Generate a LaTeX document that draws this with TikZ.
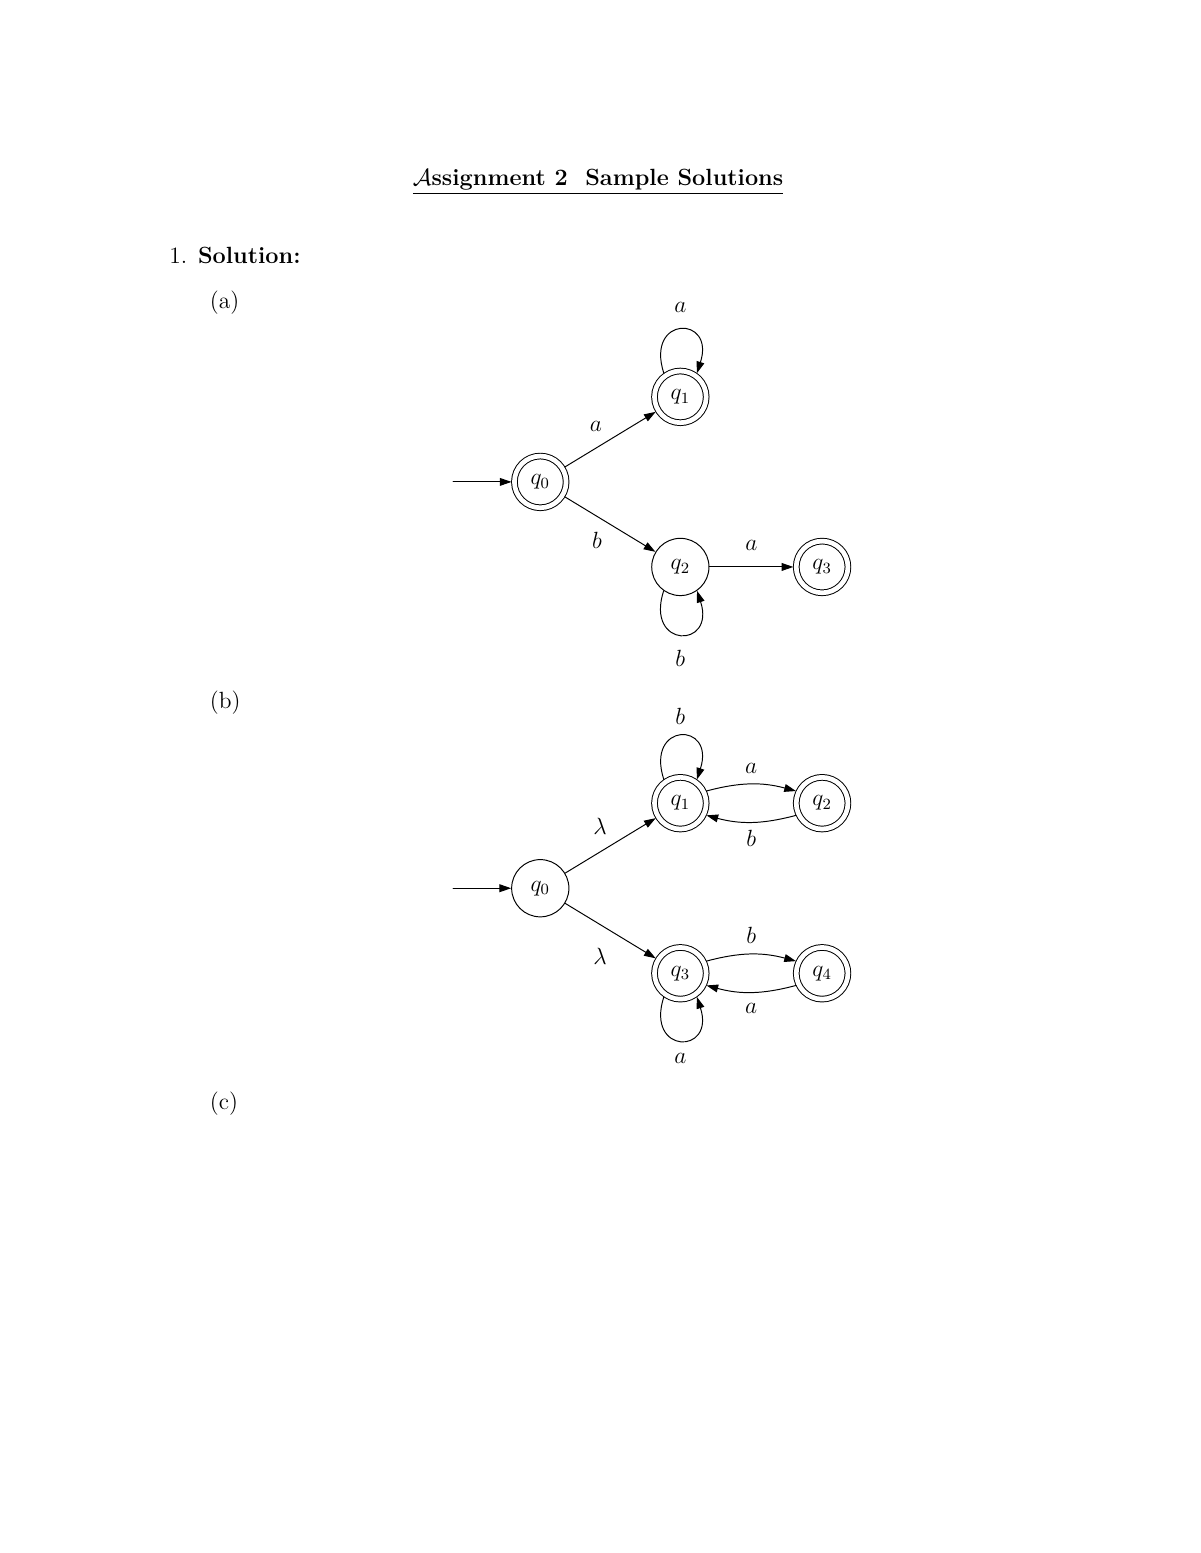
\documentclass[tikz,border=0pt,12pt]{standalone}
\usepackage{amsmath,amssymb}
\usepackage{xcolor}
\usepackage{tikz}
\usetikzlibrary{arrows.meta}
\tikzset{
  state/.style={draw, circle, line width=0.5pt, minimum size=1.03cm, inner sep=0pt},
  accept/.style={draw, circle, line width=0.5pt, double, double distance=2.4pt,
    minimum size=0.93cm, inner sep=0pt, outer sep=1.5pt},
  trans/.style={draw, line width=0.5pt, -{Triangle[length=6pt,width=4pt]}},
  lab/.style={font=\normalsize},
  head/.style={font=\normalsize\bfseries},
  itemlab/.style={anchor=west}
}

\begin{document}
\begin{tikzpicture}[line cap=round, line join=round]
  \useasboundingbox (0,0) rectangle (21.59,-27.94);
  % heading and item labels
  \node[head] (title) at (10.76,-3.28) {\underline{$\mathcal{A}$ssignment 2\ \ Sample Solutions}};
  \node[itemlab] (sol) at (2.90,-4.59) {1.\hspace{0.46em}\textbf{Solution:}};
  \node[itemlab] (pa) at (3.63,-5.45) {(a)};
  \node[itemlab] (pb) at (3.63,-12.65) {(b)};
  \node[itemlab] (pc) at (3.63,-19.85) {(c)};

  % (a)
  \node[accept] (a0) at (9.72,-8.67) {$q_0$};
  \node[accept] (a1) at (12.24,-7.14) {$q_1$};
  \node[state]  (a2) at (12.24,-10.20) {$q_2$};
  \node[accept] (a3) at (14.79,-10.20) {$q_3$};
  \coordinate (a-in) at (8.15,-8.67);
  \draw[trans] (a-in) -- (a0);
  \draw[trans] (a0) -- node[lab, above left] {$a$} (a1);
  \draw[trans] (a0) -- node[lab, below left] {$b$} (a2);
  \draw[trans] (a2) -- node[lab, above=4pt] {$a$} (a3);
  \draw[trans] (a1.125) to[out=108, in=72, distance=1.1cm] node[lab, above=4.5pt] {$a$} (a1.55);
  \draw[trans] (a2.235) to[out=252, in=288, distance=1.1cm] node[lab, below=4pt] {$b$} (a2.305);

  % (b)
  \node[state]  (b0) at (9.72,-15.98) {$q_0$};
  \node[accept] (b1) at (12.24,-14.45) {$q_1$};
  \node[accept] (b2) at (14.79,-14.45) {$q_2$};
  \node[accept] (b3) at (12.24,-17.51) {$q_3$};
  \node[accept] (b4) at (14.79,-17.51) {$q_4$};
  \coordinate (b-in) at (8.15,-15.98);
  \draw[trans] (b-in) -- (b0);
  \draw[trans] (b0) -- node[lab, pos=0.55, above left] {$\lambda$} (b1);
  \draw[trans] (b0) -- node[lab, pos=0.55, below left, yshift=-3pt] {$\lambda$} (b3);
  \draw[trans] (b1.25) to[out=15, in=165] node[lab, above=1.5pt] {$a$} (b2.155);
  \draw[trans] (b2.205) to[out=195, in=345] node[lab, below=0pt] {$b$} (b1.335);
  \draw[trans] (b3.25) to[out=15, in=165] node[lab, above=1.5pt] {$b$} (b4.155);
  \draw[trans] (b4.205) to[out=195, in=345] node[lab, below=1.5pt] {$a$} (b3.335);
  \draw[trans] (b1.125) to[out=108, in=72, distance=1.1cm] node[lab, above=1.5pt] {$b$} (b1.55);
  \draw[trans] (b3.235) to[out=252, in=288, distance=1.1cm] node[lab, below=2.5pt] {$a$} (b3.305);
\end{tikzpicture}
\end{document}
